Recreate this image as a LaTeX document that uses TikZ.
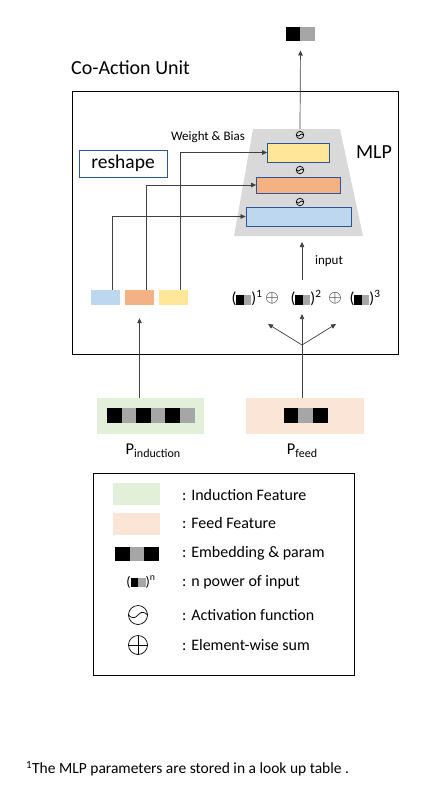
\documentclass[tikz,border=0pt]{standalone}
\usepackage{fontspec}
\setmainfont{Carlito}
\usetikzlibrary{arrows.meta}

\definecolor{wyellow}{HTML}{FFE699}
\definecolor{worange}{HTML}{F4B183}
\definecolor{wblue}{HTML}{BDD7EE}
\definecolor{layerblue}{HTML}{2F5597}
\definecolor{mlpgray}{HTML}{D9D9D9}
\definecolor{indgreen}{HTML}{E2F0D9}
\definecolor{feedpink}{HTML}{FBE5D6}
\definecolor{embgray}{HTML}{A6A6A6}

\newcommand{\embsq}{{\color{black}\rule[-1pt]{7.5pt}{9.5pt}}{\color{embgray}\rule[-1pt]{7.5pt}{9.5pt}}}
\newcommand{\fsz}[1]{\fontsize{#1}{#1}\selectfont}

\begin{document}
\begin{tikzpicture}[x=1pt,y=-1pt]
	\tikzstyle{layer} = [draw=layerblue, line width=0.8pt, inner sep=0pt]
	\tikzstyle{wbox} = [inner sep=0pt, minimum width=29pt, minimum height=15pt]
	\tikzstyle{embk} = [fill=black, inner sep=0pt, minimum size=14.6pt]
	\tikzstyle{embg} = [fill=embgray, inner sep=0pt, minimum size=14.6pt]
	\tikzstyle{actfn} = [circle, draw, line width=0.7pt, inner sep=0pt, minimum size=19pt,
		path picture={\draw[line width=0.7pt] (path picture bounding box.west) .. controls (path picture bounding box.south) and (path picture bounding box.north) .. (path picture bounding box.east);}]
	\tikzstyle{sumop} = [circle, draw, line width=0.7pt, inner sep=0pt, minimum size=19pt,
		path picture={\draw[line width=0.7pt] (path picture bounding box.north) -- (path picture bounding box.south) (path picture bounding box.west) -- (path picture bounding box.east);}]
	\tikzstyle{powterm} = [font=\fsz{16}, inner sep=1pt]
	\tikzstyle{legtext} = [anchor=west, inner sep=0pt, font=\fsz{16}]
	\tikzstyle{edge} = [->, >={Triangle[length=5pt,width=4.5pt]}, line width=0.7pt, draw=black!75]
	\def\layerx{298.5}
	\def\powy{298}

	\useasboundingbox (0,0) rectangle (422,798);

	% unit box and title
	\node[draw, line width=1pt, minimum width=326pt, minimum height=263pt] (unit) at (235,222.5) {};
	\node[anchor=west, inner sep=0pt, font=\fsz{20}] (title) at (71,68) {Co-Action Unit};

	% MLP body
	\fill[mlpgray] (253,129) -- (340,129) -- (363,236) -- (234,236) -- cycle;
	\coordinate (mlptop) at (300,129);
	\coordinate (mlpbot) at (302,236);
	\node[font=\fsz{20}] (mlp) at (374,152) {MLP};

	\foreach \name/\c/\w/\h/\y in {w1/wblue/105/19/216.5, w2/worange/84/16/185, w3/wyellow/62/19/152.5}
		\node[layer, fill=\c, minimum width=\w pt, minimum height=\h pt] (\name) at (\layerx,\y) {};
	\foreach \name/\y in {a1/135, a2/170, a3/202}
		\node[actfn, minimum size=7.5pt, line width=0.7pt] (\name) at (300,\y) {};

	\node[font=\fsz{13}] (wb) at (208,137) {Weight \& Bias};
	\node[draw=layerblue, line width=0.8pt, inner sep=0pt, minimum width=88pt, minimum height=27pt, font=\fsz{19.5}] (reshape) at (123,163.5) {reshape};

	% reshaped weights
	\foreach \name/\c/\x in {sb/wblue/105.5, so/worange/139.5, sy/wyellow/173.5}
		\node[wbox, fill=\c] (\name) at (\x,297.5) {};
	\foreach \from/\to in {sb/w1, so/w2, sy/w3}
		\draw[edge] ([xshift=7pt]\from.north) |- (\to.west);

	% output
	\node[embk] (ok1) at (293,34) {};
	\node[embg] (og1) at (307.3,34) {};
	\draw[edge, shorten >=9pt] (mlptop) -- (ok1.south east);

	% powers of the feed embedding
	\node[powterm] (p1) at (247,\powy) {(\embsq)\textsuperscript{1}};
	\node[font=\fsz{19}, inner sep=0pt] (o1) at (272,\powy) {$\oplus$};
	\node[powterm] (p2) at (306,\powy) {(\embsq)\textsuperscript{2}};
	\node[font=\fsz{19}, inner sep=0pt] (o2) at (335,\powy) {$\oplus$};
	\node[powterm] (p3) at (365,\powy) {(\embsq)\textsuperscript{3}};

	\coordinate (fan) at (302,345);
	\coordinate (fanL) at (268,324);
	\coordinate (fanR) at (336,324);
	\draw[edge, shorten <=9pt, shorten >=6pt] (p2.north -| fan) -- (mlpbot);
	\node[font=\fsz{13}] (input) at (329,261) {input};

	% inputs
	\node[fill=indgreen, minimum width=107pt, minimum height=36pt] (pind) at (150.5,416) {};
	\node[fill=feedpink, minimum width=118pt, minimum height=36pt] (pfeed) at (305,416) {};
	\foreach \name/\x/\sty in {ik1/114.3/embk, ig1/128.9/embg, ik2/143.5/embk, ig2/158.1/embg, ik3/172.7/embk, ig3/187.3/embg}
		\node[\sty] (\name) at (\x,415.5) {};
	\foreach \name/\x/\sty in {fk1/291/embk, fg1/305.5/embg, fk2/320.5/embk}
		\node[\sty] (\name) at (\x,415.5) {};
	\node[font=\fsz{16.5}] (lind) at (153,451) {P\raisebox{-3pt}{\fsz{12}induction}};
	\node[font=\fsz{16.5}] (lfeed) at (302,451) {P\raisebox{-3pt}{\fsz{12}feed}};

	\draw[edge, shorten >=13pt] (so.south |- pind.north) -- (so.south);
	\draw[line width=0.7pt, draw=black!75] (pfeed.north -| fan) -- (fan);
	\draw[edge] (fan) -- (fanL);
	\draw[edge, shorten >=7pt] (fan) -- (p2.south -| fan);
	\draw[edge] (fan) -- (fanR);

	% legend
	\node[draw, line width=0.8pt, minimum width=261pt, minimum height=202pt] (legend) at (223.5,574) {};
	\node[fill=indgreen, minimum width=47pt, minimum height=22pt] (lgind) at (136.5,494) {};
	\node[fill=feedpink, minimum width=47pt, minimum height=22pt] (lgfeed) at (136.5,523.5) {};
	\node[embk] (lk1) at (122.5,554) {};
	\node[embg] (lg1) at (137,554) {};
	\node[embk] (lk2) at (151.7,554) {};
	\node[font=\fsz{14}, inner sep=0pt] (lpow) at (141,582) {(\embsq)\textsuperscript{n}};
	\node[actfn] (lact) at (138,615) {};
	\node[sumop] (lsum) at (138,645) {};
	\foreach \name/\y/\txt in {tind/495/{: Induction Feature}, tfeed/523/{: Feed Feature}, temb/553/{: Embedding \& param}, tpow/582/{: n power of input}, tact/615/{: Activation function}, tsum/645/{: Element-wise sum}}
		\node[legtext] (\name) at (182,\y) {\txt};

	% footnote
	\node[anchor=west, inner sep=0pt, font=\fsz{15.5}] (note) at (26,769) {\textsuperscript{1}The MLP parameters are stored in a look up table .};
\end{tikzpicture}
\end{document}
